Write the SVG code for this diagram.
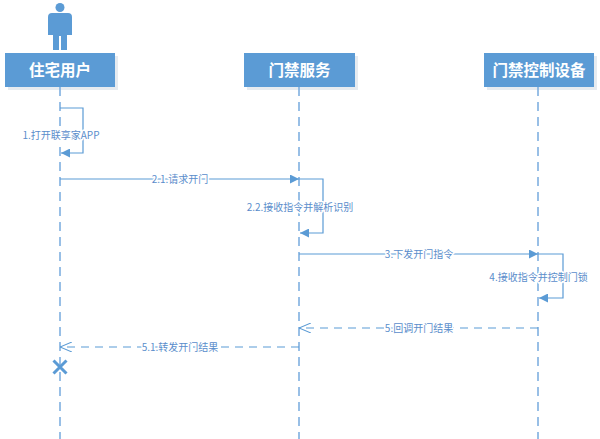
<svg xmlns="http://www.w3.org/2000/svg" width="600" height="439" viewBox="0 0 600 439">
<style>
.box{fill:#5b9bd5;}
.shadow{fill:#d5dde6;opacity:0.6;}
.head{fill:#ffffff;font-family:"Noto Sans CJK SC","Liberation Sans",sans-serif;font-size:15.5px;font-weight:bold;text-anchor:middle;}
.life{stroke:#7fb0e0;stroke-width:1.6;stroke-dasharray:9,6;fill:none;}
.msg{stroke:#5b9bd5;stroke-width:1.2;fill:none;}
.ret{stroke:#5b9bd5;stroke-width:1.2;fill:none;stroke-dasharray:8,6;}
.lbl{fill:#5a8dcb;font-family:"Noto Sans CJK SC","Liberation Sans",sans-serif;font-size:10px;text-anchor:middle;stroke:#ffffff;stroke-width:3;paint-order:stroke;stroke-linejoin:round;}
</style>
<defs>
<marker id="fill" viewBox="0 0 10 10" refX="10" refY="5" markerWidth="10" markerHeight="9" markerUnits="userSpaceOnUse" orient="auto">
<path d="M0,0 L10,5 L0,10 Z" fill="#5b9bd5"/>
</marker>
<marker id="open" viewBox="0 0 12 10" refX="12" refY="5" markerWidth="12" markerHeight="10" markerUnits="userSpaceOnUse" orient="auto">
<path d="M0,0 L12,5 L0,10" fill="none" stroke="#5b9bd5" stroke-width="1.1"/>
</marker>
</defs>
<rect width="600" height="439" fill="#ffffff"/>
<g id="user">
<circle cx="60" cy="7.5" r="4.5" fill="#5b9bd5"/>
<path d="M52,13 H68 Q72,13 72,17 V35 H67 V50 H61 V36 H59 V50 H53 V35 H48 V17 Q48,13 52,13 Z" fill="#5b9bd5"/>
<rect class="shadow" x="8" y="56" width="110" height="34"/>
<rect class="box" x="5" y="53" width="110" height="34"/>
<text class="head" x="60" y="76">住宅用户</text>
<line class="life" x1="60" y1="87" x2="60" y2="439"/>
</g>
<g id="service">
<rect class="shadow" x="247" y="56" width="111" height="34"/>
<rect class="box" x="244" y="53" width="111" height="34"/>
<text class="head" x="299.5" y="76">门禁服务</text>
<line class="life" x1="299" y1="87" x2="299" y2="439"/>
</g>
<g id="device">
<rect class="shadow" x="487" y="56" width="110" height="34"/>
<rect class="box" x="484" y="53" width="110" height="34"/>
<text class="head" x="539" y="76">门禁控制设备</text>
<line class="life" x1="538" y1="87" x2="538" y2="439"/>
</g>
<g id="connectors">
<path class="msg" d="M60,108 H83 V153 H61" marker-end="url(#fill)"/>
<text class="lbl" x="61" y="139">1.打开联享家APP</text>
<line class="msg" x1="60" y1="179" x2="299" y2="179" marker-end="url(#fill)"/>
<text class="lbl" x="180" y="183">2.1.请求开门</text>
<path class="msg" d="M299,179 H323 V233 H300" marker-end="url(#fill)"/>
<text class="lbl" x="300" y="211">2.2.接收指令并解析识别</text>
<line class="msg" x1="299" y1="254" x2="538" y2="254" marker-end="url(#fill)"/>
<text class="lbl" x="419" y="258">3.下发开门指令</text>
<path class="msg" d="M538,254 H563 V298 H539" marker-end="url(#fill)"/>
<text class="lbl" x="538.5" y="281">4.接收指令并控制门锁</text>
<line class="ret" x1="538" y1="328" x2="299" y2="328" marker-end="url(#open)"/>
<text class="lbl" x="419" y="332">5.回调开门结果</text>
<line class="ret" x1="299" y1="347" x2="60" y2="347" marker-end="url(#open)"/>
<text class="lbl" x="180" y="351">5.1.转发开门结果</text>
<path d="M53.5,360.5 L66.5,373.5 M66.5,360.5 L53.5,373.5" stroke="#5b9bd5" stroke-width="3" fill="none"/>
</g>
</svg>
